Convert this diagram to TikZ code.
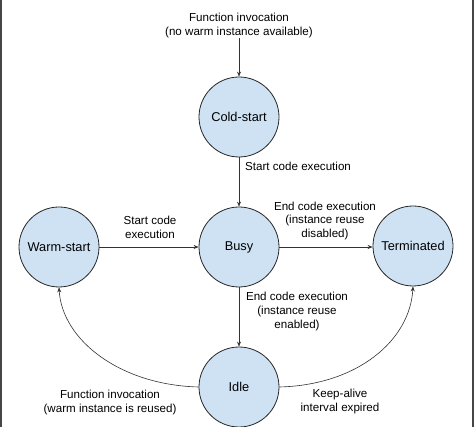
\documentclass[tikz,border=0pt]{standalone}
\usepackage{fontspec}
\setmainfont{Liberation Sans}
\usetikzlibrary{arrows.meta,positioning}
\definecolor{StateBlue}{RGB}{207,226,243}
\definecolor{EdgeGray}{RGB}{50,50,50}
\definecolor{FrameGray}{RGB}{70,70,70}

\begin{document}
\begin{tikzpicture}[x=1pt,y=-1pt,>={Stealth[length=5pt,width=4pt]},
  state/.style={circle,draw=black!85,line width=0.8pt,fill=StateBlue,minimum size=80pt,
    inner sep=0pt,font=\fontsize{12.8}{15}\selectfont},
  note/.style={align=center,font=\fontsize{11.6}{14}\selectfont,inner sep=1pt},
  flow/.style={->,EdgeGray,semithick}]
  \useasboundingbox (0,0) rectangle (474,427);
  % window edges
  \fill[FrameGray] (0,0) rectangle (2,427);
  \fill[FrameGray] (472,0) rectangle (474,427);

  % states
  \node[state] (cold) at (239,117) {Cold-start};
  \node[state] (busy) at (239,247) {Busy};
  \node[state] (warm) at (59,247) {Warm-start};
  \node[state] (term) at (413,246) {Terminated};
  \node[state] (idle) at (239,387) {Idle};

  % labels
  \node[note] (invoke) at (239,26) {Function invocation\\(no warm instance available)};
  \node[note,anchor=west] (startcold) at (244,166) {Start code execution};
  \node[note] (startwarm) at (150,227) {Start code\\execution};
  \node[note] (enddis) at (325,221) {End code execution\\(instance reuse\\disabled)};
  \node[note] (endena) at (297,311) {End code execution\\(instance reuse\\enabled)};
  \node[note] (reuse) at (110,402) {Function invocation\\(warm instance is reused)};
  \node[note] (expire) at (340,402) {Keep-alive\\interval expired};

  % transitions
  \draw[flow] (invoke.south) ++(0,-2) -- (cold);
  \draw[flow] (cold) -- (busy);
  \draw[flow] (warm) -- (busy);
  \draw[flow] (busy) -- (busy -| term.west);
  \draw[flow] (busy) -- (idle);
  \draw[flow] (idle.west) .. controls (120,385) and (62,340) .. (warm.south);
  \draw[flow] (idle.east) .. controls (358,385) and (410,340) .. (term.south);
\end{tikzpicture}
\end{document}
